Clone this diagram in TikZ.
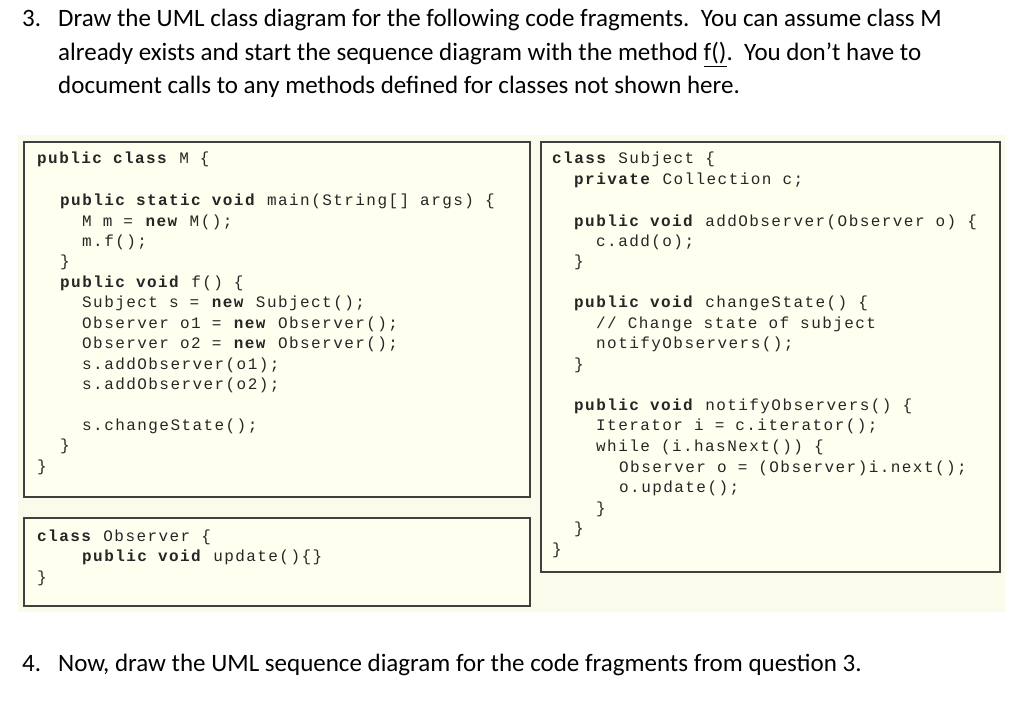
\documentclass[tikz,border=0pt]{standalone}
\usepackage{fontspec}
\setmainfont{Carlito}
\newfontfamily\codefont[LetterSpace=9]{Liberation Mono}
\definecolor{bgy}{HTML}{FBFBEC}
\definecolor{boxy}{HTML}{FFFFF0}
\definecolor{bord}{HTML}{404040}
\tikzset{codebox/.style={draw=bord,line width=1.1pt,fill=boxy},
  code/.style={anchor=base west,inner sep=0pt,font=\codefont\fontsize{16}{18}\selectfont,text=black!85},
  ttl/.style={anchor=base west,inner sep=0pt,font=\fontsize{25}{28}\selectfont}}
\newcommand{\kw}[1]{\textbf{#1}}
\begin{document}
\begin{tikzpicture}[x=1pt,y=-1pt]
\useasboundingbox (0,0) rectangle (1024,722);
\fill[white] (0,0) rectangle (1024,722);
\node[ttl] (n3) at (22,27) {3.};
\node[ttl] (t1) at (58,27) {Draw the UML class diagram for the following code fragments.\ \ You can assume class M};
\node[ttl] (t2) at (58,61) {already exists and start the sequence diagram with the method \underline{f()}.\ \ You don’t have to};
\node[ttl] (t3) at (58,94) {document calls to any methods defined for classes not shown here.};
\fill[bgy] (18,135) rectangle (1005,612);
\draw[codebox] (24,142) rectangle (530,497);
\draw[codebox] (24,518) rectangle (530,606);
\draw[codebox] (541,142) rectangle (1000,572);
% class M
\node[code] (m1) at (37,164) {\kw{public class} M \{};
\node[code] (m2) at (60,205) {\kw{public static void} main(String[] args) \{};
\node[code] (m3) at (82,226) {M m = \kw{new} M();};
\node[code] (m4) at (82,246) {m.f();};
\node[code] (m5) at (60,266) {\}};
\node[code] (m6) at (60,287) {\kw{public void} f() \{};
\node[code] (m7) at (82,307) {Subject s = \kw{new} Subject();};
\node[code] (m8) at (82,328) {Observer o1 = \kw{new} Observer();};
\node[code] (m9) at (82,348) {Observer o2 = \kw{new} Observer();};
\node[code] (m10) at (82,369) {s.addObserver(o1);};
\node[code] (m11) at (82,389) {s.addObserver(o2);};
\node[code] (m12) at (82,430) {s.changeState();};
\node[code] (m13) at (60,450) {\}};
\node[code] (m14) at (37,471) {\}};
% class Observer
\node[code] (o1) at (37,541) {\kw{class} Observer \{};
\node[code] (o2) at (82,561) {\kw{public void} update()\{\}};
\node[code] (o3) at (37,582) {\}};
% class Subject
\node[code] (s1) at (552,164) {\kw{class} Subject \{};
\node[code] (s2) at (574,185) {\kw{private} Collection c;};
\node[code] (s3) at (574,226) {\kw{public void} addObserver(Observer o) \{};
\node[code] (s4) at (596,246) {c.add(o);};
\node[code] (s5) at (574,266) {\}};
\node[code] (s6) at (574,307) {\kw{public void} changeState() \{};
\node[code] (s7) at (596,328) {// Change state of subject};
\node[code] (s8) at (596,348) {notifyObservers();};
\node[code] (s9) at (574,369) {\}};
\node[code] (s10) at (574,410) {\kw{public void} notifyObservers() \{};
\node[code] (s11) at (596,430) {Iterator i = c.iterator();};
\node[code] (s12) at (596,451) {while (i.hasNext()) \{};
\node[code] (s13) at (619,472) {Observer o = (Observer)i.next();};
\node[code] (s14) at (619,492) {o.update();};
\node[code] (s15) at (596,513) {\}};
\node[code] (s16) at (574,533) {\}};
\node[code] (s17) at (552,554) {\}};
\node[ttl] (n4) at (22,671) {4.};
\node[ttl] (t4) at (58,671) {Now, draw the UML sequence diagram for the code fragments from question 3.};
\end{tikzpicture}
\end{document}
